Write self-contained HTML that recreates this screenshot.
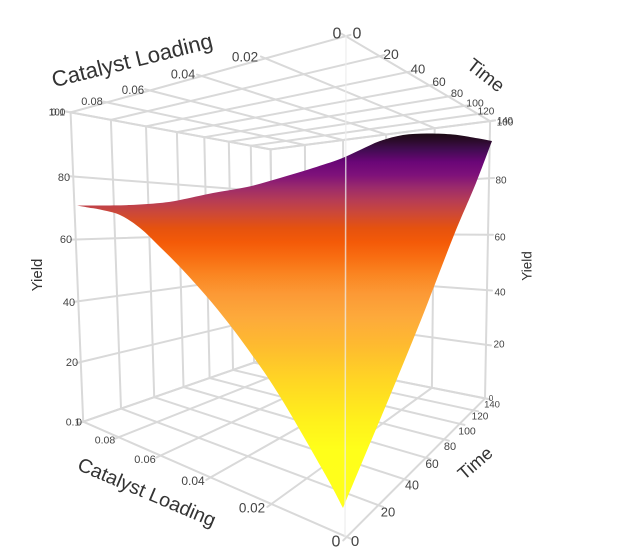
<!DOCTYPE html>
<html><head><meta charset="utf-8">
<style>
html,body{margin:0;padding:0;background:#fff;}
svg{display:block;font-family:"Liberation Sans",sans-serif;}
.t{fill:#444;}
.h{fill:#333;}
</style></head><body>
<svg id="s" width="640" height="556" viewBox="0 0 640 556" xmlns="http://www.w3.org/2000/svg">
<defs>
<linearGradient id="g" gradientUnits="userSpaceOnUse" x1="0" y1="133" x2="0" y2="508">
<stop offset="0" stop-color="#1a0a12"/>
<stop offset="0.019" stop-color="#2a0b28"/>
<stop offset="0.045" stop-color="#420c52"/>
<stop offset="0.077" stop-color="#6a0677"/>
<stop offset="0.112" stop-color="#7e117a"/>
<stop offset="0.144" stop-color="#9a2a6c"/>
<stop offset="0.179" stop-color="#b63c55"/>
<stop offset="0.213" stop-color="#cc4838"/>
<stop offset="0.253" stop-color="#e5520f"/>
<stop offset="0.291" stop-color="#f45a08"/>
<stop offset="0.333" stop-color="#f86e12"/>
<stop offset="0.379" stop-color="#fa8622"/>
<stop offset="0.432" stop-color="#fc9a36"/>
<stop offset="0.493" stop-color="#fdaa3b"/>
<stop offset="0.565" stop-color="#feba30"/>
<stop offset="0.658" stop-color="#ffd524"/>
<stop offset="0.765" stop-color="#fff01c"/>
<stop offset="0.845" stop-color="#ffff1a"/>
<stop offset="1" stop-color="#ffff1c"/>
</linearGradient>
</defs>
<rect width="640" height="556" fill="#fff"/>
<g id="grid" stroke="#d9d9d9" stroke-width="2" fill="none" stroke-linecap="round"></g>

<path id="surf" d="M77,205.5 L100,205.5 130,205 160,203 180,200 213,193 247,187 280,178 313,168 347,157 362,150 373,145 385,140 403,136 427,134 453,135 473,138 492,141 476,183 454,235 421,320 387,403 363,460 343,508 330,484 317,460 301,432 284,403 267,377 252,355 236,333 218,310 201,290 180,267 160,247 140,228 120,215 100,209.5 88,207.5 Z" fill="url(#g)"/>
<line x1="346" y1="35" x2="345" y2="537" stroke="#ececec" stroke-opacity="0.75" stroke-width="1.5"/>

<!-- top catalyst labels -->
<text class="t" x="337" y="38.6" font-size="16" text-anchor="middle">0</text>
<text class="t" x="245" y="61.7" font-size="13.5" text-anchor="middle">0.02</text>
<text class="t" x="183" y="78.4" font-size="12.5" text-anchor="middle">0.04</text>
<text class="t" x="133" y="94" font-size="11.5" text-anchor="middle">0.06</text>
<text class="t" x="92" y="104.9" font-size="11" text-anchor="middle">0.08</text>
<text class="t" x="57" y="115.5" font-size="10" text-anchor="middle">100</text>
<text class="t" x="58" y="115.5" font-size="10" text-anchor="middle">0.1</text>
<text class="h" transform="translate(132,60) rotate(-14)" x="0" y="7.7" font-size="22" text-anchor="middle" textLength="165" lengthAdjust="spacingAndGlyphs">Catalyst Loading</text>

<!-- top time labels -->
<text class="t" x="357" y="38.6" font-size="16" text-anchor="middle">0</text>
<text class="t" x="391" y="58.9" font-size="14" text-anchor="middle">20</text>
<text class="t" x="418" y="73.5" font-size="13" text-anchor="middle">40</text>
<text class="t" x="439" y="86.2" font-size="12" text-anchor="middle">60</text>
<text class="t" x="457" y="96.9" font-size="11" text-anchor="middle">80</text>
<text class="t" x="475" y="106.7" font-size="10.5" text-anchor="middle">100</text>
<text class="t" x="486" y="114.5" font-size="10" text-anchor="middle">120</text>
<text class="t" x="505" y="123.3" font-size="9.5" text-anchor="middle">140</text>
<text class="t" x="505" y="125.5" font-size="10" text-anchor="middle">100</text>
<text class="h" transform="translate(486,75) rotate(38)" x="0" y="6.6" font-size="19" text-anchor="middle">Time</text>

<!-- right yield labels -->
<text class="t" x="501" y="183.5" font-size="10" text-anchor="middle">80</text>
<text class="t" x="500" y="240.5" font-size="10" text-anchor="middle">60</text>
<text class="t" x="500" y="295.5" font-size="10" text-anchor="middle">40</text>
<text class="t" x="499" y="347.5" font-size="10" text-anchor="middle">20</text>
<text class="h" transform="translate(527,266) rotate(-90)" x="0" y="4.7" font-size="13.5" text-anchor="middle">Yield</text>

<!-- left yield labels -->
<text class="t" x="64" y="180.9" font-size="11" text-anchor="middle">80</text>
<text class="t" x="66" y="242.9" font-size="11" text-anchor="middle">60</text>
<text class="t" x="69" y="305.9" font-size="11" text-anchor="middle">40</text>
<text class="t" x="72" y="365.9" font-size="11" text-anchor="middle">20</text>
<text class="t" x="73" y="425.7" font-size="10.5" text-anchor="middle">0.1</text>
<text class="t" x="79" y="425.7" font-size="10.5" text-anchor="middle">0</text>
<text class="h" transform="translate(37,275) rotate(-90)" x="0" y="5.2" font-size="15" text-anchor="middle">Yield</text>

<!-- bottom catalyst labels -->
<text class="t" x="105" y="443.7" font-size="10.5" text-anchor="middle">0.08</text>
<text class="t" x="145" y="462.9" font-size="11" text-anchor="middle">0.06</text>
<text class="t" x="193" y="485.2" font-size="12" text-anchor="middle">0.04</text>
<text class="t" x="252" y="512.7" font-size="13.5" text-anchor="middle">0.02</text>
<text class="t" x="336" y="546.6" font-size="16" text-anchor="middle">0</text>
<text class="h" transform="translate(147,492) rotate(23)" x="0" y="6.8" font-size="19.5" text-anchor="middle" textLength="148" lengthAdjust="spacingAndGlyphs">Catalyst Loading</text>

<!-- bottom time labels -->
<text class="t" x="355" y="546.2" font-size="15" text-anchor="middle">0</text>
<text class="t" x="388" y="516.5" font-size="13" text-anchor="middle">20</text>
<text class="t" x="412" y="489.4" font-size="12.5" text-anchor="middle">40</text>
<text class="t" x="432" y="468.2" font-size="12" text-anchor="middle">60</text>
<text class="t" x="450" y="449.9" font-size="11" text-anchor="middle">80</text>
<text class="t" x="467" y="434.7" font-size="10.5" text-anchor="middle">100</text>
<text class="t" x="480" y="419.5" font-size="10" text-anchor="middle">120</text>
<text class="t" x="492" y="407.3" font-size="9.5" text-anchor="middle">140</text>
<text class="t" x="491" y="400.8" font-size="8" text-anchor="middle">0</text>
<text class="h" transform="translate(475,463) rotate(-41)" x="0" y="6.3" font-size="18" text-anchor="middle">Time</text>
</svg>
<script>
(function(){
/* smooth surface outline */
var top=[[77,205.5],[100,205.5],[130,205],[160,203],[180,200],[213,193],[247,187],[280,178],[313,168],[340,159],[360,150],[380,141],[403,135],[427,133.5],[453,134.5],[473,137.5],[492,141]];
var right=[[492,141],[476,183],[454,235],[421,320],[387,403],[363,460],[343,508]];
var left=[[343,508],[330.5,484],[317,460],[301,432],[284,403],[267.5,377],[252,355],[236,333],[218,310],[201,290],[180,267],[160,247],[140,228],[120,215],[100,209.5],[88,207.5],[77,205.5]];
function cr(p){
 var d='',i;
 for(i=0;i<p.length-1;i++){
  var p0=p[i-1]||p[i],p1=p[i],p2=p[i+1],p3=p[i+2]||p2;
  var c1=[p1[0]+(p2[0]-p0[0])/6,p1[1]+(p2[1]-p0[1])/6];
  var c2=[p2[0]-(p3[0]-p1[0])/6,p2[1]-(p3[1]-p1[1])/6];
  d+=' C'+c1[0].toFixed(1)+','+c1[1].toFixed(1)+' '+c2[0].toFixed(1)+','+c2[1].toFixed(1)+' '+p2[0]+','+p2[1];
 }
 return d;
}
document.getElementById('surf').setAttribute('d','M77,205.5'+cr(top)+cr(right)+cr(left)+' Z');

var pts=[
 [0,0,1,346,35],[0,0,0,345,537],[1,0,1,72,112],[1,0,0,83,422],
 [0,1,1,491,120],[0,1,0,486,397],[1,1,1,270,149],
 [1,0,.8,73,177],[1,0,.6,76,239],[1,0,.4,78,302],[1,0,.2,81,362],
 [0,1,.8,488,180],[0,1,.6,487,236],[0,1,.4,487,291],[0,1,.2,487,344]
];
var rows=[],rhs=[],i,j,r,k;
for(i=0;i<pts.length;i++){
 var X=pts[i][0],Y=pts[i][1],Z=pts[i][2],x=pts[i][3],y=pts[i][4];
 rows.push([X,Y,Z,1,0,0,0,0,-x*X,-x*Y,-x*Z]);rhs.push(x);
 rows.push([0,0,0,0,X,Y,Z,1,-y*X,-y*Y,-y*Z]);rhs.push(y);
}
var n=11,M=[];
for(i=0;i<n;i++){M.push([]);for(j=0;j<=n;j++)M[i].push(0);}
for(r=0;r<rows.length;r++){
 for(i=0;i<n;i++){
  for(j=0;j<n;j++)M[i][j]+=rows[r][i]*rows[r][j];
  M[i][n]+=rows[r][i]*rhs[r];
 }
}
for(var c=0;c<n;c++){
 var p=c;
 for(r=c+1;r<n;r++)if(Math.abs(M[r][c])>Math.abs(M[p][c]))p=r;
 var tmp=M[c];M[c]=M[p];M[p]=tmp;
 for(r=0;r<n;r++){
  if(r===c)continue;
  var f=M[r][c]/M[c][c];
  for(k=c;k<=n;k++)M[r][k]-=f*M[c][k];
 }
}
var P=[];for(i=0;i<n;i++)P.push(M[i][n]/M[i][i]);
function proj(X,Y,Z){
 var d=P[8]*X+P[9]*Y+P[10]*Z+1;
 return [(P[0]*X+P[1]*Y+P[2]*Z+P[3])/d,(P[4]*X+P[5]*Y+P[6]*Z+P[7])/d];
}
var NS="http://www.w3.org/2000/svg",g=document.getElementById('grid');
function L(a,b){
 if(!isFinite(a[0])||!isFinite(b[0]))return;
 var e=document.createElementNS(NS,'line');
 e.setAttribute('x1',a[0].toFixed(1));e.setAttribute('y1',a[1].toFixed(1));
 e.setAttribute('x2',b[0].toFixed(1));e.setAttribute('y2',b[1].toFixed(1));
 g.appendChild(e);
}
function seg(a,b){L(proj(a[0],a[1],a[2]),proj(b[0],b[1],b[2]));}
function tick(a,b,len){
 var A=proj(a[0],a[1],a[2]),B=proj(b[0],b[1],b[2]);
 var dx=B[0]-A[0],dy=B[1]-A[1],l=Math.sqrt(dx*dx+dy*dy)||1;
 L(B,[B[0]+dx/l*len,B[1]+dy/l*len]);
}
for(k=0;k<=7;k++){var v=k/7;
 seg([1,v,0],[1,v,1]);
 seg([0,v,0],[1,v,0]);
 seg([0,v,1],[1,v,1]);
 tick([1,v,0],[0,v,0],5);tick([1,v,1],[0,v,1],5);
}
for(k=0;k<=5;k++){var u=k/5;
 seg([u,1,0],[u,1,1]);
 seg([u,0,0],[u,1,0]);
 seg([u,0,1],[u,1,1]);
 tick([u,1,0],[u,0,0],5);tick([u,1,1],[u,0,1],5);
}
for(k=0;k<=5;k++){var w=k/5;
 seg([1,0,w],[1,1,w]);
 seg([0,1,w],[1,1,w]);
 tick([1,1,w],[1,0,w],5);tick([1,1,w],[0,1,w],5);
}
})();
</script>
</body></html>
